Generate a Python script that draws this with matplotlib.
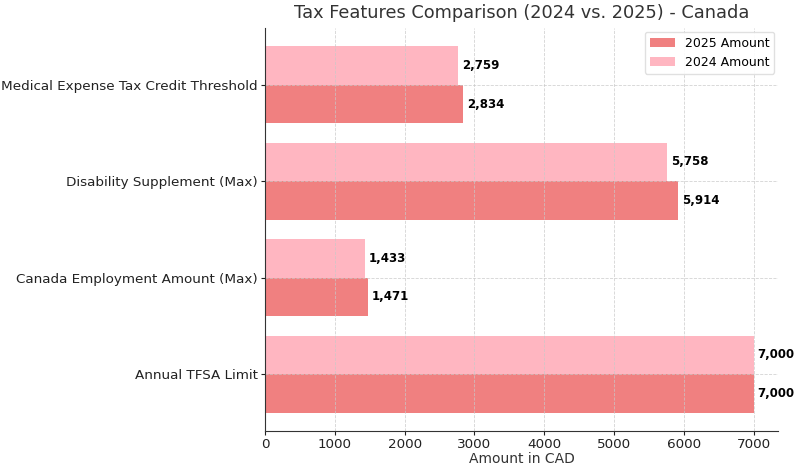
import numpy as np
import matplotlib.pyplot as plt

# ===== data
features = ['Annual TFSA Limit', 'Canada Employment Amount (Max)',
            'Disability Supplement (Max)', 'Medical Expense Tax Credit Threshold']
amount_2025 = [7000, 1471, 5914, 2834]
amount_2024 = [7000, 1433, 5758, 2759]

fig = plt.figure(figsize=(8, 4.74), dpi=100)
ax = fig.add_axes([0.33125, 0.0907, 0.64125, 0.8503])

y = np.arange(len(features))
h = 0.4
b25 = ax.barh(y - h / 2, amount_2025, height=h, color='#F08080', label='2025 Amount')
b24 = ax.barh(y + h / 2, amount_2024, height=h, color='#FFB6C1', label='2024 Amount')

for bars in (b25, b24):
    ax.bar_label(bars, labels=['{:,}'.format(v) for v in bars.datavalues],
                 padding=3, fontsize=8.5, fontweight='bold', color='black')

ax.set_yticks(y)
ax.set_yticklabels(features)
ax.set_xlim(0, 7350)
ax.set_xticks(np.arange(0, 7001, 1000))
ax.set_xlabel('Amount in CAD', fontsize=10, color='#333333', labelpad=1)
ax.set_title('Tax Features Comparison (2024 vs. 2025) - Canada', fontsize=12.8,
             color='#333333', pad=7)

ax.tick_params(axis='both', labelsize=9.7, colors='#222222', length=3, pad=2)
ax.grid(True, linestyle='--', linewidth=0.6, color='#c8c8c8', alpha=0.8)
ax.set_axisbelow(False)
for s in ('top', 'right'):
    ax.spines[s].set_visible(False)
for s in ('left', 'bottom'):
    ax.spines[s].set_color('#333333')
    ax.spines[s].set_zorder(3)

ax.legend(loc='upper right', fontsize=9, framealpha=0.9, edgecolor='#dddddd',
          borderaxespad=0.3)

fig.savefig('out.png', dpi=100)
